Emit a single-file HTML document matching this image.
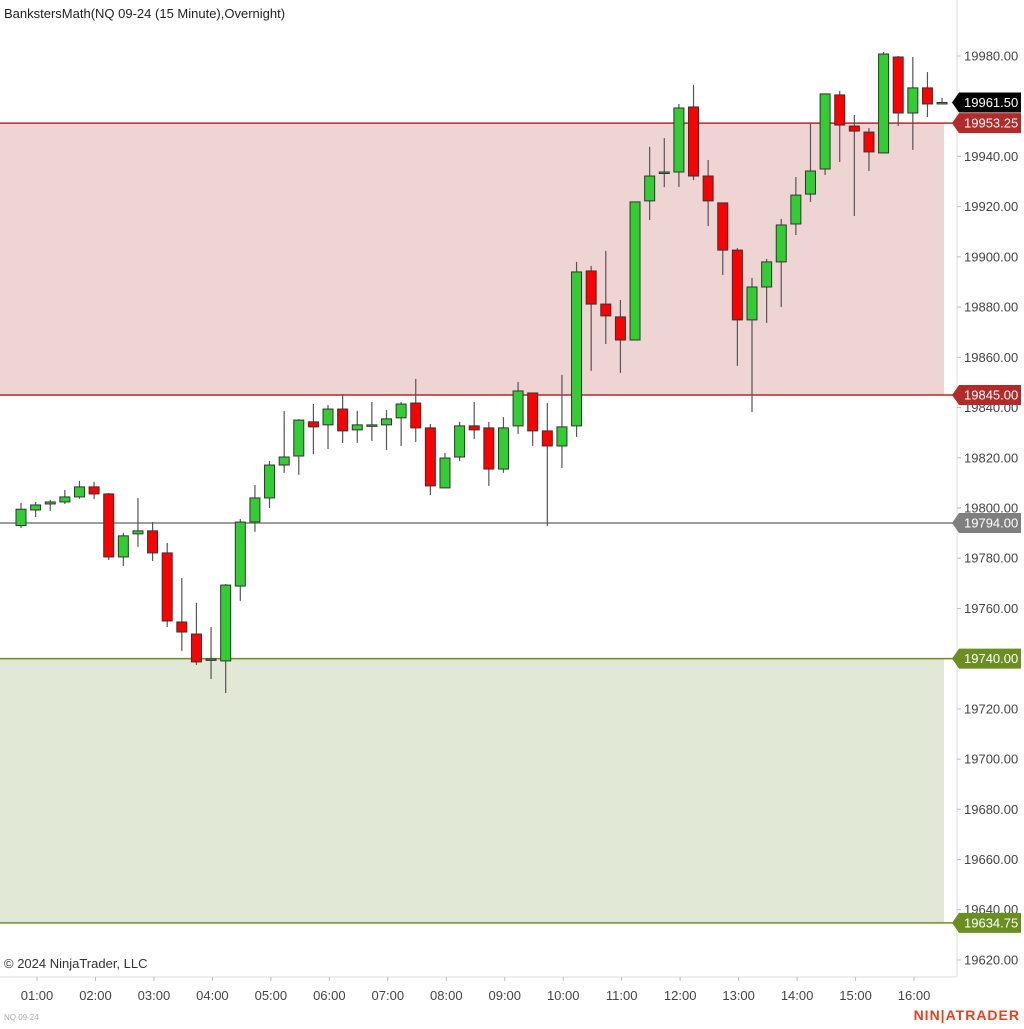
<!DOCTYPE html>
<html><head><meta charset="utf-8"><style>
body{margin:0;background:#fff;width:1024px;height:1024px;overflow:hidden;font-family:"Liberation Sans",sans-serif}
svg text{font-family:"Liberation Sans",sans-serif}
</style></head><body>
<svg id="c" width="1024" height="1024">
<text x="4" y="18" font-size="13" fill="#222">BankstersMath(NQ 09-24 (15 Minute),Overnight)</text>
<text x="4" y="968" font-size="13" fill="#333">© 2024 NinjaTrader, LLC</text>
<text x="4" y="1020" font-size="8" fill="#aaa">NQ 09-24</text>
<text x="1020" y="1020" font-size="14" font-weight="bold" fill="#e8401c" text-anchor="end" letter-spacing="1">NIN|ATRADER</text>
</svg>
<script>
const opens=[19793,19799.2,19801.6,19802.4,19804.4,19808.4,19805.6,19780.5,19789.7,19790.9,19782.1,19754.6,19749.8,19739.5,19739.1,19768.9,19794.4,19804,19817.1,19820.7,19834.3,19833.1,19839.4,19831.1,19832.7,19833.1,19835.9,19841.8,19831.9,19808,19820.3,19832.7,19831.9,19815.5,19832.7,19845.8,19830.7,19824.7,19832.7,19894.4,19881.2,19876.1,19866.9,19922.3,19933.4,19933.8,19959.7,19932.2,19921.5,19902.7,19874.9,19888,19898,19913.1,19925,19935,19964.5,19952.1,19949.7,19941.4,19979.6,19957.3,19967.3,19960.9];
const highs=[19802,19802.4,19803.2,19807.2,19810.8,19810.4,19806,19790.1,19804,19794.4,19786.1,19772.1,19762.2,19752.6,19769.7,19795.6,19809.2,19818.7,19838.6,19835.4,19841.4,19841,19845.4,19838.6,19842.2,19839,19842.2,19851.4,19833.5,19821.9,19834.3,19842.2,19834.3,19836.2,19850.2,19845.8,19841.8,19853,19898,19896.4,19902.4,19882.8,19921.9,19943.8,19947.3,19960.9,19968.5,19938.6,19921.5,19903.5,19891.6,19899.2,19915.1,19931.8,19952.9,19964.9,19966.1,19956.5,19951.3,19981.6,19980,19979.6,19973.6,19963.3];
const lows=[19792,19796.4,19798.8,19801.6,19803.6,19803.6,19779.3,19776.9,19784.5,19778.9,19752.6,19743.1,19737.5,19731.9,19726.3,19763,19790.5,19800,19814,19813.2,19821.5,19823.5,19825.9,19825.9,19826.7,19823.1,19824.7,19826.3,19805.2,19808,19818.7,19827.5,19808.8,19814,19829.5,19824.7,19792.8,19815.9,19828.3,19854.6,19865.3,19853.8,19866.9,19914.7,19927.8,19927.8,19930.6,19912.3,19892.8,19856.6,19838.2,19873.7,19880,19908.7,19921.9,19932.6,19937.8,19916.3,19934.2,19941.4,19952.1,19942.6,19955.7,19960.9];
const closes=[19799.5,19801.2,19802.4,19804.4,19808.4,19805.6,19780.5,19788.9,19790.9,19782.1,19755,19750.6,19738.7,19739.9,19769.3,19794.4,19804,19817.1,19820.3,19835,19832.3,19839.4,19830.7,19833.1,19833.1,19835.5,19841.4,19831.9,19808.8,19819.9,19832.7,19831.1,19815.5,19831.9,19846.6,19830.7,19824.7,19832.3,19894,19881.2,19876.5,19866.9,19921.9,19932.2,19933.8,19959.3,19932.2,19922.3,19902.7,19874.9,19888,19898,19912.7,19924.6,19934.2,19964.9,19952.5,19950.1,19941.8,19980.8,19957.3,19967.3,19960.9,19961.5];
const yTicks=[19980,19960,19940,19920,19900,19880,19860,19840,19820,19800,19780,19760,19740,19720,19700,19680,19660,19640,19620];
const timeLabels=["01:00","02:00","03:00","04:00","05:00","06:00","07:00","08:00","09:00","10:00","11:00","12:00","13:00","14:00","15:00","16:00"];
const levels=[19961.5,19953.25,19845,19794,19740,19634.75];
const levelColors=["#000","#b22b2b","#b22b2b","#7f7f7f","#6b8e23","#6b8e23"];

const NS="http://www.w3.org/2000/svg";const svg=document.getElementById('c');
const Y=v=>56+(19980-v)*2.511;
const X=i=>21+i*14.62;
function mk(t,a,parent){const e=document.createElementNS(NS,t);for(const k in a)e.setAttribute(k,a[k]);(parent||svg).appendChild(e);return e;}
const g=mk('g',{});
// bands
let b=mk('rect',{x:0,y:Y(19953.25),width:944,height:Y(19845)-Y(19953.25),fill:'#efd4d4'},g);


b=mk('rect',{x:0,y:Y(19740),width:944,height:Y(19634.75)-Y(19740),fill:'#e1e8d5'},g);


// axes
mk('line',{x1:957,y1:0,x2:957,y2:977,stroke:'#ddd'},g);
mk('line',{x1:0,y1:977,x2:957,y2:977,stroke:'#ddd'},g);
yTicks.forEach(v=>{const y=Y(v);mk('line',{x1:957,y1:y,x2:961,y2:y,stroke:'#bbb'},g);
const t=mk('text',{x:964,y:y+4.5,'font-size':13,fill:'#444'},g);t.textContent=v.toFixed(2);

});
timeLabels.forEach((s,i)=>{const x=37+i*58.47;mk('line',{x1:x,y1:977,x2:x,y2:981,stroke:'#bbb'},g);
const t=mk('text',{x:x,y:1000,'font-size':13,fill:'#444','text-anchor':'middle'},g);t.textContent=s;

});
// level lines
levels.forEach((v,i)=>{if(i===0)return;const y=Y(v);
const l=mk('line',{x1:0,y1:y,x2:954,y2:y,stroke:levelColors[i],'stroke-width':1.5},g);

});
// candles
for(let i=0;i<opens.length;i++){const x=X(i),o=opens[i],c=closes[i];
const cg=mk('g',{},g);


mk('line',{x1:x,y1:Y(highs[i]),x2:x,y2:Y(lows[i]),stroke:'#555','stroke-width':1.2},cg);
const top=Math.min(Y(o),Y(c)),h=Math.max(1.5,Math.abs(Y(o)-Y(c)));
mk('rect',{x:x-5,y:top,width:10,height:h,fill:c>=o?'#32cd32':'#ff0000',stroke:'#333','stroke-width':1},cg);}
// tags
levels.forEach((v,i)=>{const y=Y(v);
const p=mk('path',{d:`M952 ${y} L959 ${y-10} H1021 V${y+10} H959 Z`,fill:levelColors[i]},g);


const t=mk('text',{x:964,y:y+4.5,'font-size':13,fill:'#fff'},g);t.textContent=v.toFixed(2);

});
</script>
</body></html>
